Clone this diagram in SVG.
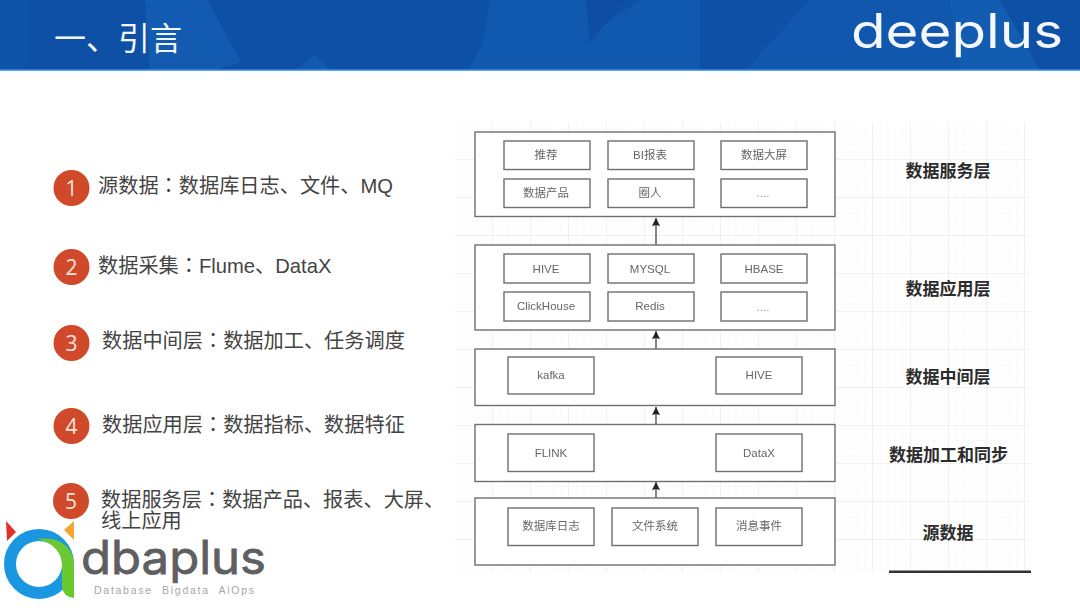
<svg xmlns="http://www.w3.org/2000/svg" width="1080" height="608" viewBox="0 0 1080 608">
<defs>
<pattern id="minor" width="7.6" height="7.6" patternUnits="userSpaceOnUse" x="455" y="122"><path d="M7.6 0V7.6H0" fill="none" stroke="#f5f5f5" stroke-width="1"/></pattern>
<pattern id="major" width="38" height="38" patternUnits="userSpaceOnUse" x="455" y="122"><path d="M38 0V38H0" fill="none" stroke="#e8e8e8" stroke-width="1"/></pattern>
<marker id="ah" markerWidth="9" markerHeight="9" refX="8" refY="4" orient="auto" markerUnits="userSpaceOnUse"><path d="M0 0L8 4L0 8L1 4Z" fill="#222"/></marker>
<filter id="soft" x="-5%" y="-5%" width="110%" height="110%"><feGaussianBlur stdDeviation="0.4"/></filter>
</defs>
<style>
.cjk{font-family:"Liberation Sans","Noto Sans CJK SC",sans-serif}
.colon{font-family:"Noto Sans CJK TC",sans-serif}
.item{font-size:20.2px;fill:#444}
.num{font-size:21px;fill:#f6e4dc;text-anchor:middle;font-family:"Open Sans","Liberation Sans",sans-serif}
.dot{fill:#d0492a}
.outer{fill:#fff;stroke:#6e6e6e;stroke-width:1.4}
.inner{fill:#fff;stroke:#6e6e6e;stroke-width:1.4}
.lab{font-size:11.5px;fill:#666;text-anchor:middle}
.layer{font-size:17px;font-weight:bold;fill:#2c2c2c;text-anchor:middle}
.conn{stroke:#333;stroke-width:1.2;fill:none;marker-end:url(#ah)}
</style>
<rect width="1080" height="608" fill="#fff"/>
<g id="header">
<rect width="1080" height="70" fill="#0e50a6"/>
<path d="M0 0H28V70H0Z" fill="#0f53a9"/>
<path d="M145 0H207L241 62L215 70H150Z" fill="#135bb1"/>
<path d="M296 70L315 55L330 70Z" fill="#125ab0"/>
<path d="M490 0H586L590 40L610 20L640 0H700V70H468L482 45Z" fill="#1159ae"/>
<path d="M586 0H625L590 42Z" fill="#0d4ea2"/>
<path d="M745 70L810 0H1000L1040 70Z" fill="#1057ad"/>
<path d="M950 0H1000L1040 70H960Z" fill="#125cb2"/>
<rect y="69.500" width="1080" height="1.500" fill="#5aa5e4"/>
<text x="54" y="50" class="cjk" font-size="32" fill="#f2f6fb">一、引言</text>
<text x="851" y="48" font-family="Inter,'Liberation Sans',sans-serif" font-size="48" fill="#f4f8fc" textLength="212" lengthAdjust="spacingAndGlyphs">deeplus</text>
</g>
<g id="item1"><circle class="dot" cx="71.500" cy="188" r="18"/><text class="num" x="71.500" y="195.500">1</text><text class="cjk item" x="98" y="193">源数据<tspan class="colon">：</tspan>数据库日志、文件、MQ</text></g>
<g id="item2"><circle class="dot" cx="71.500" cy="267" r="18"/><text class="num" x="71.500" y="274.500">2</text><text class="cjk item" x="98" y="273">数据采集<tspan class="colon">：</tspan>Flume、DataX</text></g>
<g id="item3"><circle class="dot" cx="71.500" cy="343" r="18"/><text class="num" x="71.500" y="350.500">3</text><text class="cjk item" x="102" y="348">数据中间层<tspan class="colon">：</tspan>数据加工、任务调度</text></g>
<g id="item4"><circle class="dot" cx="71.500" cy="426" r="18"/><text class="num" x="71.500" y="433.500">4</text><text class="cjk item" x="102" y="432">数据应用层<tspan class="colon">：</tspan>数据指标、数据特征</text></g>
<g id="item5"><circle class="dot" cx="71" cy="501" r="18"/><text class="num" x="71" y="508.500">5</text><text class="cjk item" x="101" y="507">数据服务层<tspan class="colon">：</tspan>数据产品、报表、大屏、</text><text class="cjk item" x="101" y="528">线上应用</text></g>
<g id="grid">
<rect x="455" y="122" width="575" height="450" fill="url(#minor)"/>
<rect x="455" y="122" width="575" height="450" fill="url(#major)"/>
</g>
<g id="connectors">
<path class="conn" d="M656 245V218"/>
<path class="conn" d="M656 349V331"/>
<path class="conn" d="M656 425V407"/>
<path class="conn" d="M656 498V482"/>
</g>
<g id="layer-service" filter="url(#soft)">
<rect class="outer" x="475" y="132" width="360" height="84.500"/>
<g id="n-tuijian"><rect class="inner" x="504" y="141" width="86" height="28.500"/><text class="cjk lab" x="546" y="159">推荐</text></g>
<g id="n-bi"><rect class="inner" x="608" y="141" width="86" height="28.500"/><text class="cjk lab" x="650" y="159">BI报表</text></g>
<g id="n-screen"><rect class="inner" x="721" y="141" width="86" height="28.500"/><text class="cjk lab" x="764" y="159">数据大屏</text></g>
<g id="n-product"><rect class="inner" x="504" y="179" width="86" height="28.500"/><text class="cjk lab" x="546" y="197">数据产品</text></g>
<g id="n-people"><rect class="inner" x="608" y="179" width="86" height="28.500"/><text class="cjk lab" x="650" y="197">圈人</text></g>
<g id="n-more1"><rect class="inner" x="721" y="179" width="86" height="28.500"/><text class="cjk lab" x="763" y="197" style="fill:#999">....</text></g>
</g>
<g id="layer-app" filter="url(#soft)">
<rect class="outer" x="475" y="245" width="360" height="85"/>
<g id="n-hive1"><rect class="inner" x="504" y="254" width="86" height="29"/><text class="cjk lab" x="546" y="273">HIVE</text></g>
<g id="n-mysql"><rect class="inner" x="608" y="254" width="86" height="29"/><text class="cjk lab" x="650" y="273">MYSQL</text></g>
<g id="n-hbase"><rect class="inner" x="721" y="254" width="86" height="29"/><text class="cjk lab" x="764" y="273">HBASE</text></g>
<g id="n-ch"><rect class="inner" x="504" y="292" width="86" height="29"/><text class="cjk lab" x="546" y="310">ClickHouse</text></g>
<g id="n-redis"><rect class="inner" x="608" y="292" width="86" height="29"/><text class="cjk lab" x="650" y="310">Redis</text></g>
<g id="n-more2"><rect class="inner" x="721" y="292" width="86" height="29"/><text class="cjk lab" x="763" y="311" style="fill:#999">....</text></g>
</g>
<g id="layer-mid" filter="url(#soft)">
<rect class="outer" x="475" y="349" width="360" height="56.500"/>
<g id="n-kafka"><rect class="inner" x="508" y="357" width="86" height="37"/><text class="cjk lab" x="551" y="379">kafka</text></g>
<g id="n-hive2"><rect class="inner" x="716" y="357" width="86" height="37"/><text class="cjk lab" x="759" y="379">HIVE</text></g>
</g>
<g id="layer-proc" filter="url(#soft)">
<rect class="outer" x="475" y="424.500" width="360" height="57"/>
<g id="n-flink"><rect class="inner" x="508" y="434" width="86" height="37.500"/><text class="cjk lab" x="551" y="457">FLINK</text></g>
<g id="n-datax"><rect class="inner" x="716" y="434" width="86" height="37.500"/><text class="cjk lab" x="759" y="457">DataX</text></g>
</g>
<g id="layer-src" filter="url(#soft)">
<rect class="outer" x="475" y="498" width="360" height="67"/>
<g id="n-log"><rect class="inner" x="508" y="508" width="86" height="37.500"/><text class="cjk lab" x="551" y="530">数据库日志</text></g>
<g id="n-file"><rect class="inner" x="612" y="508" width="86" height="37.500"/><text class="cjk lab" x="655" y="530">文件系统</text></g>
<g id="n-msg"><rect class="inner" x="716" y="508" width="86" height="37.500"/><text class="cjk lab" x="759" y="530">消息事件</text></g>
</g>
<g id="layer-labels">
<text class="cjk layer" x="948" y="177">数据服务层</text>
<text class="cjk layer" x="948" y="295">数据应用层</text>
<text class="cjk layer" x="948" y="383">数据中间层</text>
<text class="cjk layer" x="948.500" y="461">数据加工和同步</text>
<text class="cjk layer" x="948" y="539">源数据</text>
<rect x="889" y="570.500" width="142" height="2.500" fill="#333"/>
</g>
<g id="logo-dbaplus">
<path d="M6 521L16 532L7 541Z" fill="#e0322d"/>
<path d="M74 521L64 530L74 540Z" fill="#f5a630"/>
<circle cx="39" cy="564" r="29" fill="none" stroke="#1a97e0" stroke-width="12"/>
<path d="M36 539C50 537 62 540 68 548C72 553 74 558 74 566V598Q63 597 62 586V564C62 551 50 541 36 539Z" fill="#69c92f"/>
<text x="81" y="574" font-family="Inter,'Liberation Sans',sans-serif" font-size="46" fill="#5f5f61" stroke="#5f5f61" stroke-width="0.8" textLength="185" lengthAdjust="spacingAndGlyphs">dbaplus</text>
<text x="94" y="594" font-family="'Liberation Sans',sans-serif" font-size="10.500" fill="#a6a6a6" textLength="160" xml:space="preserve">Database  Bigdata  AiOps</text>
</g>
</svg>
